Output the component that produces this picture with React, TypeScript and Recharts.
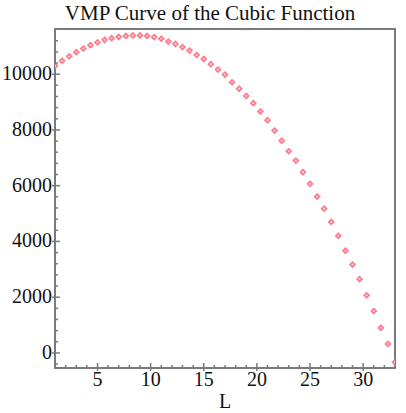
import React from 'react';
import { ScatterChart, Scatter, XAxis, YAxis, ReferenceArea } from 'recharts';

// L values (step of 2/3 from 1 to 33)
const lValues = [
  1, 1.667, 2.333, 3, 3.667, 4.333, 5, 5.667, 6.333, 7, 7.667, 8.333, 9,
  9.667, 10.333, 11, 11.667, 12.333, 13, 13.667, 14.333, 15, 15.667, 16.333,
  17, 17.667, 18.333, 19, 19.667, 20.333, 21, 21.667, 22.333, 23, 23.667,
  24.333, 25, 25.667, 26.333, 27, 27.667, 28.333, 29, 29.667, 30.333, 31,
  31.667, 32.333, 33,
];

// VMP
const vmpValues = [
  10300, 10480, 10640, 10790, 10920, 11040, 11140, 11230, 11290, 11340, 11370,
  11390, 11390, 11370, 11330, 11270, 11170, 11085, 10970, 10845, 10690, 10545,
  10360, 10165, 9985, 9710, 9480, 9220, 8960, 8660, 8350, 7975, 7615, 7235,
  6900, 6485, 6065, 5610, 5175, 4700, 4200, 3670, 3170, 2645, 2070, 1505, 900,
  325, -335,
];

const xMajor = [5, 10, 15, 20, 25, 30];
const xTicks = [2, 3, 4, 5, 6, 7, 8, 9, 10, 11, 12, 13, 14, 15, 16, 17, 18, 19, 20, 21, 22, 23, 24, 25, 26, 27, 28, 29, 30, 31, 32];
const yMajor = [0, 2000, 4000, 6000, 8000, 10000];
const yTicks = [
  -400, 0, 400, 800, 1200, 1600, 2000, 2400, 2800, 3200, 3600, 4000, 4400, 4800,
  5200, 5600, 6000, 6400, 6800, 7200, 7600, 8000, 8400, 8800, 9200, 9600, 10000,
  10400, 10800, 11200,
];

const data = lValues.map((l, i) => ({ L: l, vmp: vmpValues[i] }));

const FONT = '"Liberation Serif", "Times New Roman", serif';
const AXIS = '#7a7a7a';

const XTick = (props: any) => {
  const { x, y, payload } = props;
  const major = xMajor.includes(payload.value);
  return (
    <g>
      <line x1={x} x2={x} y1={y - (major ? 5 : 3)} y2={y + (major ? 3 : 0)} stroke={AXIS} strokeWidth={1.5} />
      {major && (
        <text x={x} y={y + 18} textAnchor="middle" fontSize={20} fontFamily={FONT} fill="#111">
          {payload.value}
        </text>
      )}
    </g>
  );
};

const YTick = (props: any) => {
  const { x, y, payload } = props;
  const major = yMajor.includes(payload.value);
  return (
    <g>
      <line x1={x - (major ? 3 : 0)} x2={x + (major ? 5 : 3)} y1={y} y2={y} stroke={AXIS} strokeWidth={1.5} />
      {major && (
        <text x={x - 3} y={y + 6} textAnchor="end" fontSize={20} fontFamily={FONT} fill="#111">
          {payload.value}
        </text>
      )}
    </g>
  );
};

const Diamond = (props: any) => {
  const { cx, cy } = props;
  const r = 3.6;
  return (
    <g>
      <path d={`M${cx},${cy - r}L${cx + r},${cy}L${cx},${cy + r}L${cx - r},${cy}Z`} fill="#ff7888" />
      <circle cx={cx} cy={cy} r={1.1} fill="#ffd2d8" />
    </g>
  );
};

export default function App() {
  return (
    <div style={{ position: 'absolute', left: 0, top: 0, width: 406, height: 413, background: '#fff' }}>
      <div
        style={{
          position: 'absolute',
          left: 0,
          width: 420,
          top: 0,
          textAlign: 'center',
          fontFamily: FONT,
          fontSize: 21,
          lineHeight: '26px',
          color: '#111',
        }}
      >
        VMP Curve of the Cubic Function
      </div>
      <ScatterChart width={406} height={413} margin={{ top: 29, right: 11, bottom: 0, left: 0 }}>
        <XAxis
          type="number"
          dataKey="L"
          domain={[1, 33]}
          ticks={xTicks}
          interval={0}
          allowDataOverflow
          axisLine={false}
          tickLine={false}
          tickSize={0}
          tickMargin={0}
          height={45}
          tick={<XTick />}
          label={{ value: 'L', position: 'insideBottom', offset: 5, fontSize: 20, fontFamily: FONT, fill: '#111' }}
        />
        <YAxis
          type="number"
          dataKey="vmp"
          domain={[-540, 11620]}
          ticks={yTicks}
          interval={0}
          allowDataOverflow
          axisLine={false}
          tickLine={false}
          tickSize={0}
          tickMargin={0}
          width={55}
          tick={<YTick />}
        />
        <ReferenceArea x1={1} x2={33} y1={-540} y2={11620} fill="none" stroke={AXIS} strokeWidth={2} ifOverflow="visible" />
        <Scatter data={data} shape={<Diamond />} isAnimationActive={false} />
      </ScatterChart>
    </div>
  );
}
